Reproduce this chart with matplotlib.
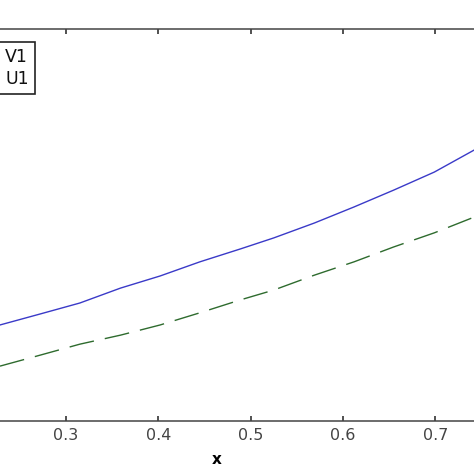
import matplotlib
matplotlib.use('Agg')
import matplotlib.pyplot as plt
from matplotlib.lines import Line2D

# values (y in arbitrary units, 0..1 over the axes)
x  = [0.2285, 0.272, 0.315, 0.359, 0.402, 0.445, 0.489,
      0.525, 0.569, 0.612, 0.655, 0.699, 0.742]
v1 = [0.245, 0.273, 0.301, 0.339, 0.370, 0.406, 0.439,
      0.467, 0.505, 0.546, 0.589, 0.635, 0.691]
u1 = [0.140, 0.168, 0.196, 0.219, 0.245, 0.276, 0.309,
      0.334, 0.372, 0.406, 0.444, 0.480, 0.520]
xticks = [0.3, 0.4, 0.5, 0.6, 0.7]
labels = ['V1', 'U1']

plt.rcParams['font.family'] = ['DejaVu Sans']

blue = '#3a3ac8'
green = '#2e6b2e'
dash = (18, 8)

fig = plt.figure(figsize=(4.74, 4.74), dpi=100)
ax = fig.add_axes([0.0, 53/474, 1.0, 392/474])

ax.plot(x, v1, color=blue, lw=1.0)
ax.plot(x, u1, color=green, lw=1.0, dashes=dash)

ax.set_xlim(0.2285, 0.742)
ax.set_ylim(0, 1)
ax.set_xticks(xticks)
ax.set_xticklabels([f'{t:.1f}' for t in xticks], color='#444444', fontsize=11.5)
ax.set_yticks([])
ax.tick_params(axis='x', direction='in', top=True, length=3.5, width=1.2,
               color='#333333', pad=5)
ax.spines['left'].set_visible(False)
ax.spines['right'].set_visible(False)
for s in ['top', 'bottom']:
   ax.spines[s].set_color('#444444')
   ax.spines[s].set_linewidth(1.1)

ax.set_xlabel('x', fontsize=11, fontweight='bold')
ax.xaxis.set_label_coords(216.5/474, -31/392)

handles = [Line2D([], [], color=blue, lw=1.0),
           Line2D([], [], color=green, lw=1.0, dashes=dash)]
leg = ax.legend(handles, labels, loc='upper right', bbox_to_anchor=(35/474, 1 - 13/392),
                borderaxespad=0, frameon=True, fancybox=False, edgecolor='#222222',
                framealpha=1, borderpad=0.35, labelspacing=0.2, handlelength=3.0,
                prop={'size': 12.5})
for t in leg.get_texts():
   t.set_color('#111111')
leg.get_frame().set_linewidth(1.2)

fig.savefig('out.png', dpi=100)
